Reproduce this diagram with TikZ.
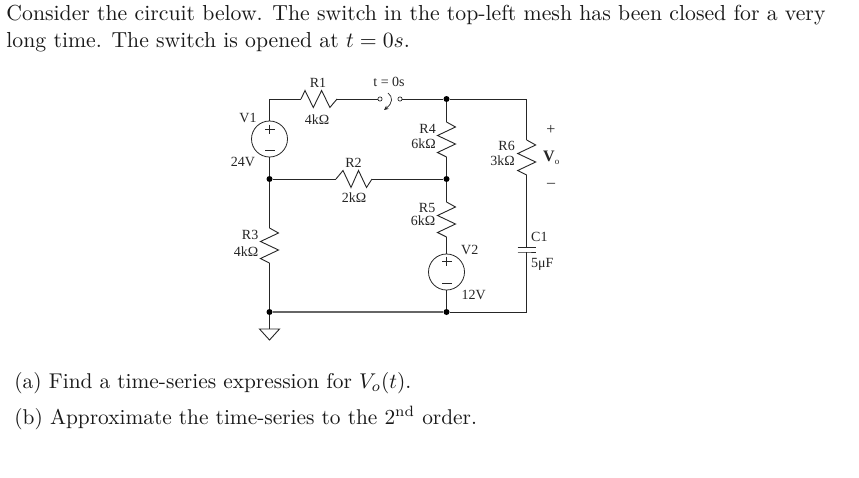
\documentclass[tikz,border=0pt]{standalone}
\usepackage{fontspec}
\newfontfamily\cktfont{Liberation Serif}
\usetikzlibrary{arrows.meta}
\tikzset{
  wire/.style={line width=0.9pt,draw=black!85},
  dot/.style={circle,fill=black,inner sep=0pt,minimum size=6pt},
  srcv/.style={circle,draw=black!85,line width=0.8pt,inner sep=0pt,minimum size=36pt},
  lbl/.style={font=\cktfont\fontsize{14}{15}\selectfont,text=black!85,inner sep=0pt},
  prosebase/.style={anchor=base west,inner sep=0pt,font=\fontsize{10}{12}\selectfont,text=black!90},
  prose/.style={prosebase,scale=2.174},
  proseq/.style={prosebase,scale=2.137},
  opencontact/.style={circle,draw=black!85,line width=0.7pt,fill=white,inner sep=0pt,minimum size=4.2pt},
  plate/.style={line width=1pt,draw=black!85}
}
\newcommand{\vres}[2]{% top coordinate name, bottom coordinate name
  \draw[wire] (#1) -- ++(9,5) -- ++(-18,8.5) -- ++(18,8.5) -- ++(-18,8.5) -- (#2);}
\begin{document}
\begin{tikzpicture}[x=1pt,y=-1pt]
\path[use as bounding box,fill=white] (0,0) rectangle (859,477);
% prose
\node[prose] (l1) at (6,20) {Consider the circuit below. The switch in the top-left mesh has been closed for a very};
\node[prose] (l2) at (6,47) {long time. The switch is opened at $t=0s$.};
\node[proseq] (qa) at (14,388) {(a) Find a time-series expression for $V_o(t)$.};
\node[proseq] (qb) at (14,424) {(b) Approximate the time-series to the 2$^{\mathrm{nd}}$ order.};
% junctions
\node[dot] (jt) at (446.5,99) {};
\node[dot] (jm) at (446.5,179) {};
\node[dot] (jl) at (269.5,179) {};
\node[dot] (jb) at (269.5,312) {};
\node[dot] (jc) at (446.5,312) {};
% corners and component terminals
\coordinate (tl) at (269.5,99);
\coordinate (tr) at (526.7,99);
\coordinate (br) at (526.7,312);
\coordinate (r1a) at (301,99);
\coordinate (r1b) at (337,99);
\coordinate (r2a) at (336,179);
\coordinate (r2b) at (372,179);
\coordinate (r3a) at (269.5,228);
\coordinate (r3b) at (269.5,263);
\coordinate (r4a) at (446.5,122);
\coordinate (r4b) at (446.5,157);
\coordinate (r5a) at (446.5,202);
\coordinate (r5b) at (446.5,237);
\coordinate (r6a) at (526.7,140);
\coordinate (r6b) at (526.7,175);
\coordinate (c1a) at (526.7,247.5);
\coordinate (c1b) at (526.7,252);
\coordinate (gnd) at (269.5,329);
\node[srcv] (v1) at (269.5,139) {};
\node[srcv] (v2) at (446.5,272) {};
\node[opencontact] (swa) at (380,99) {};
\node[opencontact] (swb) at (400,99) {};
% wires
\draw[wire] (v1) -- (tl) -- (r1a);
\draw[wire] (r1b) -- (swa);
\draw[wire] (swb) -- (jt);
\draw[wire] (jt) -- (tr) -- (r6a);
\draw[wire] (r6b) -- (c1a);
\draw[wire] (c1b) -- (br) -- (jc);
\draw[wire,line width=1.4pt,draw=black!60] (jc) -- (jb);
\draw[wire] (v1) -- (jl);
\draw[wire] (jl) -- (r2a);
\draw[wire] (r2b) -- (jm);
\draw[wire] (jl) -- (r3a);
\draw[wire] (r3b) -- (jb);
\draw[wire] (jb) -- (gnd);
\draw[wire] (jt) -- (r4a);
\draw[wire] (r4b) -- (jm);
\draw[wire] (jm) -- (r5a);
\draw[wire] (r5b) -- (v2);
\draw[wire] (v2) -- (jc);
% resistors
\draw[wire] (r1a) -- ++(4,-8.5) -- ++(8.3,17) -- ++(8.3,-17) -- ++(8.3,17) -- (r1b);
\draw[wire] (r2a) -- ++(7,-8.5) -- ++(8,17) -- ++(7.5,-17) -- ++(8,17) -- (r2b);
\vres{r3a}{r3b}
\vres{r4a}{r4b}
\vres{r5a}{r5b}
\vres{r6a}{r6b}
% capacitor
\draw[plate] (517.5,247.5) -- (c1a) -- (536,247.5);
\draw[plate] (517.5,252) -- (c1b) -- (536,252);
% ground
\draw[wire] (gnd) -- ++(-10,0) -- ++(10,11) -- ++(10,-11) -- cycle;
% switch arrow
\draw[line width=0.7pt,draw=black!85,-{Stealth[length=4.5pt,width=4pt]}] (388,93) .. controls (393,97) and (393,103) .. (384,110);
% source signs
\draw[line width=0.7pt,draw=black!85] (265,129) -- (274.5,129) (269.5,124.5) -- (269.5,133.5);
\draw[line width=0.7pt,draw=black!85] (265,150) -- (274.5,150);
\draw[line width=0.7pt,draw=black!85] (442,261) -- (451.5,261) (446.5,256.5) -- (446.5,265.5);
\draw[line width=0.7pt,draw=black!85] (442,283) -- (451.5,283);
% labels
\node[lbl] (lr1) at (318,83) {R1};
\node[lbl] (lr1v) at (317,119.5) {4kΩ};
\node[lbl] (lsw) at (389,82) {t = 0s};
\node[lbl] (lv1) at (248,118) {V1};
\node[lbl] (lv1v) at (243,162) {24V};
\node[lbl] (lr2) at (353.5,162.5) {R2};
\node[lbl] (lr2v) at (354,198) {2kΩ};
\node[lbl,anchor=east] (lr3) at (258.5,234.5) {R3};
\node[lbl,anchor=east] (lr3v) at (258.5,252) {4kΩ};
\node[lbl,anchor=east] (lr4) at (436,129) {R4};
\node[lbl,anchor=east] (lr4v) at (436,144) {6kΩ};
\node[lbl,anchor=east] (lr5) at (435.5,208) {R5};
\node[lbl,anchor=east] (lr5v) at (435.5,221) {6kΩ};
\node[lbl,anchor=east] (lr6) at (515,146) {R6};
\node[lbl,anchor=east] (lr6v) at (515,161) {3kΩ};
\node[lbl,anchor=west] (lv2) at (461,250) {V2};
\node[lbl,anchor=west] (lv2v) at (461.5,295) {12V};
\node[lbl,anchor=west] (lc1) at (531,237) {C1};
\node[lbl,anchor=west] (lc1v) at (531,264) {5μF};
\node[lbl,font=\cktfont\fontsize{16}{16}\selectfont] (lp) at (551,130) {+};
\node[lbl,anchor=west,font=\cktfont\fontsize{16}{16}\selectfont] (lvo) at (543,157.5) {\textbf{V}\raisebox{-3pt}{\fontsize{9}{9}\selectfont o}};
\node[lbl,font=\cktfont\fontsize{16}{16}\selectfont] (lm) at (551,185) {–};
\end{tikzpicture}
\end{document}
